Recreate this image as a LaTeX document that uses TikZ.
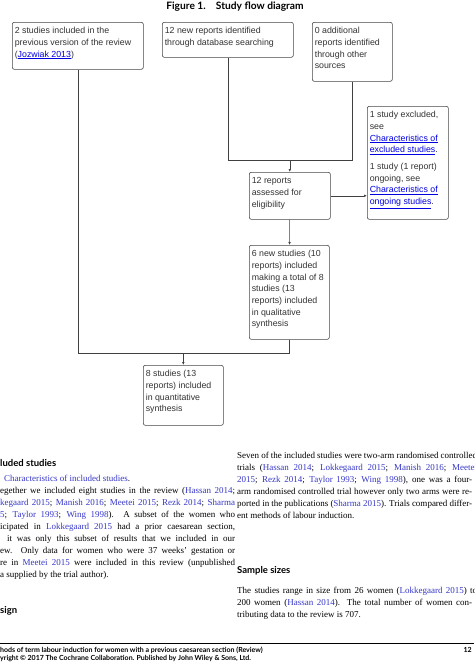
\documentclass[tikz,border=0pt]{standalone}
\usepackage{fontspec}
\setmainfont{Liberation Serif}
\newfontfamily\boxfont{Liberation Sans}
\newfontfamily\headfont{Lato}
\usetikzlibrary{arrows.meta}
\definecolor{boxlinkblue}{RGB}{0,0,225}
\definecolor{reflinkblue}{RGB}{55,55,200}
\definecolor{boxgray}{RGB}{70,70,70}
\newcommand{\boxlink}[1]{\textcolor{boxlinkblue}{\underline{#1}}}
\newcommand{\reflink}[1]{\textcolor{reflinkblue}{#1}}
\newcommand{\fillline}[2]{\makebox[#1pt][s]{#2}}
\newcommand{\boxtext}[3]{\parbox[c][#2pt][t]{#1pt}{\raggedright\rule{0pt}{11.3pt}#3}}

\begin{document}
\begin{tikzpicture}[
        x=1pt, y=-1pt,
        flowbox/.style={draw=boxgray, line width=0.6pt, rounded corners=2pt, inner xsep=2.5pt, inner ysep=0pt, anchor=north west, text=black!80, font=\boxfont\fontsize{8.8}{11.7}\selectfont},
        flowline/.style={draw=black!75, line width=0.6pt},
        flowarrow/.style={flowline, -{Latex[length=3pt, width=2.6pt]}},
        bodytext/.style={anchor=base west, inner sep=0pt, font=\fontsize{9}{12}\selectfont},
        headtext/.style={anchor=base west, inner sep=0pt, font=\headfont\bfseries\fontsize{9.5}{11}\selectfont},
        foottext/.style={anchor=base west, inner sep=0pt, font=\headfont\bfseries\fontsize{7}{8}\selectfont}
    ]
    \useasboundingbox (0,0) rectangle (474,664);
    \fill[white] (0,0) rectangle (474,664);
    \clip (0,0) rectangle (474,664);

    % Title
    \node[anchor=base, inner sep=0pt, font=\headfont\bfseries\fontsize{10.2}{12}\selectfont] (title) at (235,9) {Figure 1.\quad Study flow diagram};

    % Top row - sources
    \node[flowbox] (prev) at (12,22) {\boxtext{126}{47}{2 studies included in the\\ previous version of the review\\ (\boxlink{Jozwiak 2013})}};
    \node[flowbox] (search) at (162,22) {\boxtext{126}{35}{12 new reports identified\\ through database searching}};
    \node[flowbox] (other) at (312,22) {\boxtext{75}{59}{0 additional\\ reports identified\\ through other\\ sources}};

    % Middle - screening
    \node[flowbox] (excl) at (367,106) {\boxtext{76}{113}{1 study excluded,\\ see\\ \boxlink{Characteristics of}\\ \boxlink{excluded studies}.\\[5pt] 1 study (1 report)\\ ongoing, see\\ \boxlink{Characteristics of}\\ \boxlink{ongoing studies}.}};
    \node[flowbox] (elig) at (249,172) {\boxtext{76}{47}{12 reports\\ assessed for\\ eligibility}};
    \node[flowbox] (qual) at (249,245) {\boxtext{75}{94}{6 new studies (10\\ reports) included\\ making a total of 8\\ studies (13\\ reports) included\\ in qualitative\\ synthesis}};

    % Bottom - quantitative synthesis
    \node[flowbox] (quant) at (143,365) {\boxtext{75}{60}{8 studies (13\\ reports) included\\ in quantitative\\ synthesis}};

    % Connectors
    \coordinate (jtop) at (elig.north |- 0,160);
    \coordinate (jbot) at (quant.north |- 0,353);
    \draw[flowline] (search) -- (search.south |- jtop) -- (other.south |- jtop) -- (other);
    \draw[flowarrow] (jtop) -- (elig);
    \draw[flowarrow] (elig.east) -- (elig.east -| excl.west);
    \draw[flowarrow] (elig) -- (qual);
    \draw[flowline] (prev) -- (prev.south |- jbot) -- (qual.south |- jbot) -- (qual);
    \draw[flowarrow] (jbot) -- (quant);

    % Left column of page text
    \node[headtext] (lhead) at (0,466.5) {luded studies};
    \node[bodytext] (l1) at (4,481) {\reflink{Characteristics of included studies}.};
    \node[bodytext] (l2) at (0,493) {\fillline{235}{egether we included eight studies in the review (\reflink{Hassan 2014};}};
    \node[bodytext] (l3) at (0,505) {\fillline{235}{\reflink{kegaard 2015}; \reflink{Manish 2016}; \reflink{Meetei 2015}; \reflink{Rezk 2014}; \reflink{Sharma}}};
    \node[bodytext] (l4) at (0,517) {\fillline{235}{\reflink{5}; \reflink{Taylor 1993}; \reflink{Wing 1998}). A subset of the women who}};
    \node[bodytext] (l5) at (0,529) {\fillline{235}{icipated in \reflink{Lokkegaard 2015} had a prior caesarean section,}};
    \node[bodytext] (l6) at (7,541) {\fillline{228}{it was only this subset of results that we included in our}};
    \node[bodytext] (l7) at (0,553) {\fillline{235}{ew. Only data for women who were 37 weeks' gestation or}};
    \node[bodytext] (l8) at (0,565) {\fillline{235}{re in \reflink{Meetei 2015} were included in this review (unpublished}};
    \node[bodytext] (l9) at (0,577) {a supplied by the trial author).};
    \node[headtext] (lhead2) at (0,613.5) {sign};

    % Right column of page text
    \node[bodytext] (r1) at (237,458) {\fillline{240}{Seven of the included studies were two-arm randomised controlled}};
    \node[bodytext] (r2) at (237,470) {\fillline{240}{trials (\reflink{Hassan 2014}; \reflink{Lokkegaard 2015}; \reflink{Manish 2016}; \reflink{Meetei}}};
    \node[bodytext] (r3) at (237,482) {\fillline{235}{\reflink{2015}; \reflink{Rezk 2014}; \reflink{Taylor 1993}; \reflink{Wing 1998}), one was a four-}};
    \node[bodytext] (r4) at (237,494) {\fillline{235}{arm randomised controlled trial however only two arms were re-}};
    \node[bodytext] (r5) at (237,506) {\fillline{235}{ported in the publications (\reflink{Sharma 2015}). Trials compared differ-}};
    \node[bodytext] (r6) at (237,518) {ent methods of labour induction.};
    \node[headtext] (rhead) at (237,573.5) {Sample sizes};
    \node[bodytext] (r7) at (237,593) {\fillline{240}{The studies range in size from 26 women (\reflink{Lokkegaard 2015}) to}};
    \node[bodytext] (r8) at (237,605) {\fillline{235}{200 women (\reflink{Hassan 2014}). The total number of women con-}};
    \node[bodytext] (r9) at (237,617) {tributing data to the review is 707.};

    % Footer
    \draw[line width=0.8pt] (0,643) -- (474,643);
    \node[foottext] (foot1) at (0,652.5) {hods of term labour induction for women with a previous caesarean section (Review)};
    \node[foottext, anchor=base east] (page) at (472,652.5) {12};
    \node[foottext] (foot2) at (0,660.5) {yright \textcopyright{} 2017 The Cochrane Collaboration. Published by John Wiley \& Sons, Ltd.};
\end{tikzpicture}
\end{document}
